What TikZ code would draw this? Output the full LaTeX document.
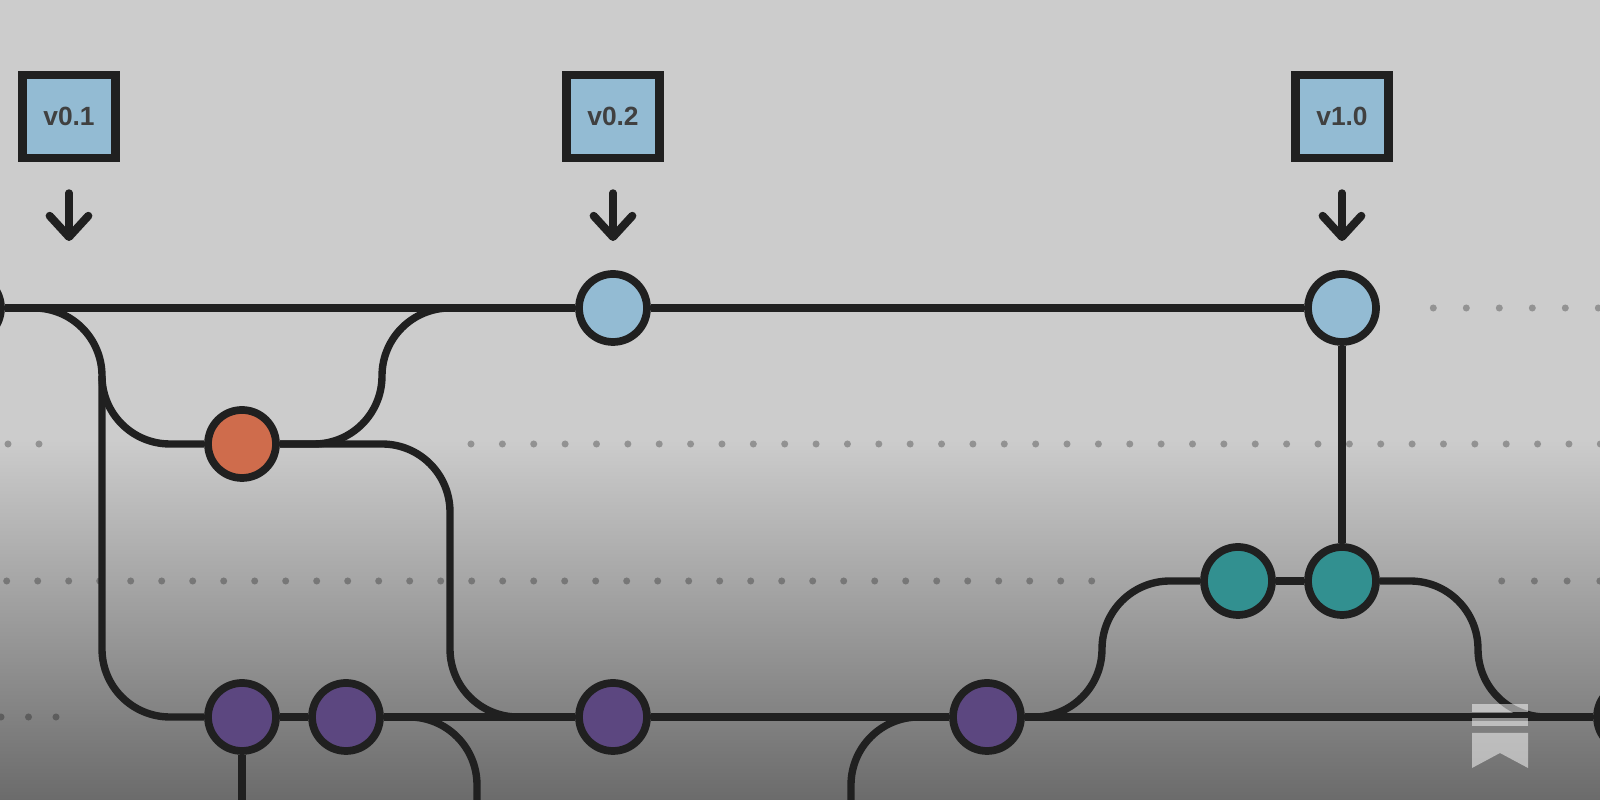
\documentclass[tikz,border=0pt]{standalone}
\usepackage{fontspec}
\setsansfont{Liberation Sans}
\usetikzlibrary{arrows.meta}
\definecolor{LineDark}{RGB}{32,32,32}
\definecolor{TagBlue}{RGB}{147,187,211}
\definecolor{FixOrange}{RGB}{207,108,76}
\definecolor{DevPurple}{RGB}{92,71,128}
\definecolor{RelTeal}{RGB}{50,144,144}

\begin{document}
\begin{tikzpicture}[
        x=0.1mm, y=-0.1mm,
        commit/.style={
            circle,
            draw=LineDark,
            line width=2.2pt,
            inner sep=0pt,
            minimum size=0.68cm
        },
        tagbox/.style={
            draw=LineDark,
            fill=TagBlue,
            line width=2.3pt,
            inner sep=0pt,
            minimum width=0.93cm,
            minimum height=0.83cm,
            text=black!75,
            font=\sffamily\bfseries\fontsize{7.5}{10}\selectfont
        },
        branchline/.style={
            draw=LineDark,
            line width=2.1pt
        },
        pointer/.style={
            branchline,
            line cap=round,
            -{Straight Barb[length=6pt,width=11pt,line width=2.3pt,round]}
        },
        gridpoint/.style={
            fill=black,
            opacity=0.28
        }
    ]
        \useasboundingbox (0,0) rectangle (1600,800);
        \clip (0,0) rectangle (1600,800);
        % background
        \fill[black!20] (0,0) rectangle (1600,440);
        \shade[top color=black!20, bottom color=black!58] (0,440) rectangle (1600,800);

        % dotted lanes
        \foreach \i in {0,...,5} \fill[gridpoint] ({1433.3+33*\i},308) circle (1pt);
        \foreach \i in {0,1} \fill[gridpoint] ({8+31*\i},444) circle (1pt);
        \foreach \i in {0,...,36} \fill[gridpoint] ({471+31.37*\i},444) circle (1pt);
        \foreach \i in {0,...,35} \fill[gridpoint] ({6.7+31*\i},581) circle (1pt);
        \foreach \i in {0,...,3} \fill[gridpoint] ({1501.7+32.7*\i},581) circle (1pt);
        \foreach \i in {0,1,2} \fill[gridpoint] ({1+27.5*\i},717) circle (1pt);

        % commits
        \node[commit, fill=LineDark] (start) at (-33,308) {};
        \node[commit, fill=TagBlue] (rel2) at (613,308) {};
        \node[commit, fill=TagBlue] (rel3) at (1342,308) {};
        \node[commit, fill=FixOrange] (fix) at (242,444) {};
        \node[commit, fill=RelTeal] (rc1) at (1238,581) {};
        \node[commit, fill=RelTeal] (rc2) at (1342,581) {};
        \node[commit, fill=DevPurple] (dev1) at (242,717) {};
        \node[commit, fill=DevPurple] (dev2) at (346,717) {};
        \node[commit, fill=DevPurple] (dev3) at (613,717) {};
        \node[commit, fill=DevPurple] (dev4) at (987,717) {};
        \node[commit, fill=DevPurple] (dev5) at (1631,717) {};

        % tags
        \node[tagbox] (tag1) at (69,116.5) {v0.1};
        \node[tagbox] (tag2) at (613,116.5) {v0.2};
        \node[tagbox] (tag3) at (1342,116.5) {v1.0};

        \coordinate (tip1a) at (69,193);
        \coordinate (tip1b) at (69,241);
        \coordinate (tip2a) at (613,193);
        \coordinate (tip2b) at (613,241);
        \coordinate (tip3a) at (1342,193);
        \coordinate (tip3b) at (1342,241);
        \draw[pointer] (tip1a) -- (tip1b);
        \draw[pointer] (tip2a) -- (tip2b);
        \draw[pointer] (tip3a) -- (tip3b);

        % turning points of the branches
        \coordinate (a1) at (34,308);
        \coordinate (a2) at (102,376);
        \coordinate (a3) at (170,444);
        \coordinate (a4) at (102,649);
        \coordinate (a5) at (170,717);
        \coordinate (b1) at (314,444);
        \coordinate (b2) at (382,376);
        \coordinate (b3) at (450,308);
        \coordinate (c1) at (382,444);
        \coordinate (c2) at (450,512);
        \coordinate (c3) at (450,649);
        \coordinate (c4) at (518,717);
        \coordinate (d1) at (409,717);
        \coordinate (d2) at (477,785);
        \coordinate (d3) at (477,800);
        \coordinate (e1) at (919,717);
        \coordinate (e2) at (851,785);
        \coordinate (e3) at (851,800);
        \coordinate (f1) at (1034,717);
        \coordinate (f2) at (1102,649);
        \coordinate (f3) at (1170,581);
        \coordinate (g1) at (1410,581);
        \coordinate (g2) at (1478,649);
        \coordinate (g3) at (1546,717);
        \coordinate (h1) at (242,800);

        % main lines
        \draw[branchline] (start) -- (rel2);
        \draw[branchline] (rel2) -- (rel3);
        \draw[branchline] (rel3) -- (rc2);
        \draw[branchline] (rc1) -- (rc2);
        \draw[branchline] (dev1) -- (dev2);
        \draw[branchline] (dev2) -- (dev3);
        \draw[branchline] (dev3) -- (dev4);
        \draw[branchline] (dev4) -- (dev5);
        \draw[branchline] (dev1) -- (h1);

        % curved branches
        \draw[branchline] (a1) to[out=0,in=90] (a2) -- (a4) to[out=-90,in=180] (a5) -- (dev1);
        \draw[branchline] (a2) to[out=-90,in=180] (a3) -- (fix);
        \draw[branchline] (fix) -- (b1) to[out=0,in=-90] (b2) to[out=90,in=180] (b3);
        \draw[branchline] (fix) -- (c1) to[out=0,in=90] (c2) -- (c3) to[out=-90,in=180] (c4);
        \draw[branchline] (dev2) -- (d1) to[out=0,in=90] (d2) -- (d3);
        \draw[branchline] (e3) -- (e2) to[out=90,in=180] (e1) -- (dev4);
        \draw[branchline] (dev4) -- (f1) to[out=0,in=-90] (f2) to[out=90,in=180] (f3) -- (rc1);
        \draw[branchline] (rc2) -- (g1) to[out=0,in=90] (g2) to[out=-90,in=180] (g3);

        % bookmark mark
        \fill[white, opacity=0.5] (1472,704) rectangle (1528,712);
        \fill[white, opacity=0.5] (1472,718) rectangle (1528,726);
        \fill[white, opacity=0.5] (1472,733) -- (1528,733) -- (1528,768) -- (1500,753) -- (1472,768) -- cycle;
    \end{tikzpicture}
\end{document}
